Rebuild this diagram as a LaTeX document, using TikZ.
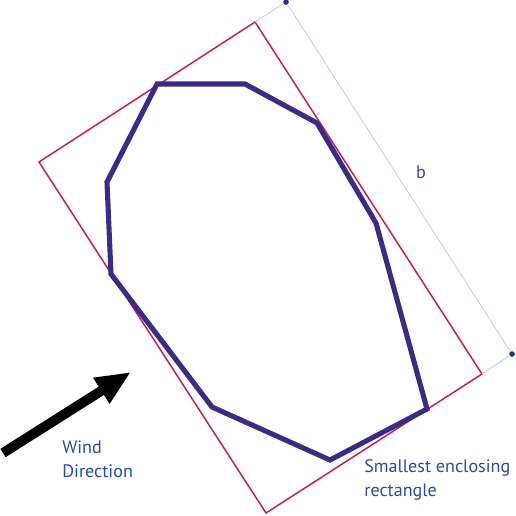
\documentclass[tikz,border=0pt]{standalone}
\usepackage{fontspec}
\setmainfont{PT Sans}
\usetikzlibrary{arrows.meta, positioning, calc}

\definecolor{rectred}{RGB}{196,30,84}
\definecolor{polyblue}{RGB}{58,44,134}
\definecolor{dimgrey}{RGB}{190,202,228}
\definecolor{dotblue}{RGB}{22,52,150}
\definecolor{textblue}{RGB}{40,76,162}

\begin{document}
\begin{tikzpicture}[x=0.02cm, y=-0.02cm, >=Stealth]
  % Define styles
  \tikzstyle{enclosing} = [draw=rectred, line width=0.85pt, line join=miter]
  \tikzstyle{outline} = [draw=polyblue, line width=2.9pt, line join=miter]
  \tikzstyle{dimline} = [draw=dimgrey, line width=0.45pt]
  \tikzstyle{enddot} = [circle, fill=dotblue, inner sep=0pt, minimum size=3.2pt]
  \tikzstyle{label} = [text=textblue, font=\fontsize{10.3}{13.6}\selectfont, align=left, inner sep=0pt]
  \tikzstyle{wind} = [line width=5.6pt, -{Triangle[length=20pt, width=16pt]}]

  \useasboundingbox (0,0) rectangle (516,515);

  % Place corners
  \coordinate (rtop) at (255,22);
  \coordinate (rleft) at (39,162);
  \coordinate (rbottom) at (266,513);
  \coordinate (rright) at (482,374);
  \node [enddot] (dtop) at (286,2) {};
  \node [enddot] (dright) at (512,354) {};
  \coordinate (windstart) at (3,453);
  \coordinate (windend) at (131,372);

  % Place labels
  \node [label] (blabel) at (421,172) {b};
  \node [label, anchor=north west] (windlabel) at (62,440) {Wind\\Direction};
  \node [label, anchor=north west] (rectlabel) at (364,459) {Smallest enclosing\\rectangle};

  % Draw shapes
  \draw [enclosing] (rtop) -- (rright) -- (rbottom) -- (rleft) -- cycle;
  \draw [outline] (157,84) -- (245,84) -- (317,123) -- (376,223) -- (427,409)
    -- (330,460) -- (212,407) -- (111,274) -- (107,182) -- cycle;
  \draw [dimline] (rtop) -- (dtop) -- (dright) -- (rright);
  \draw [wind] (windstart) -- (windend);
\end{tikzpicture}
\end{document}
